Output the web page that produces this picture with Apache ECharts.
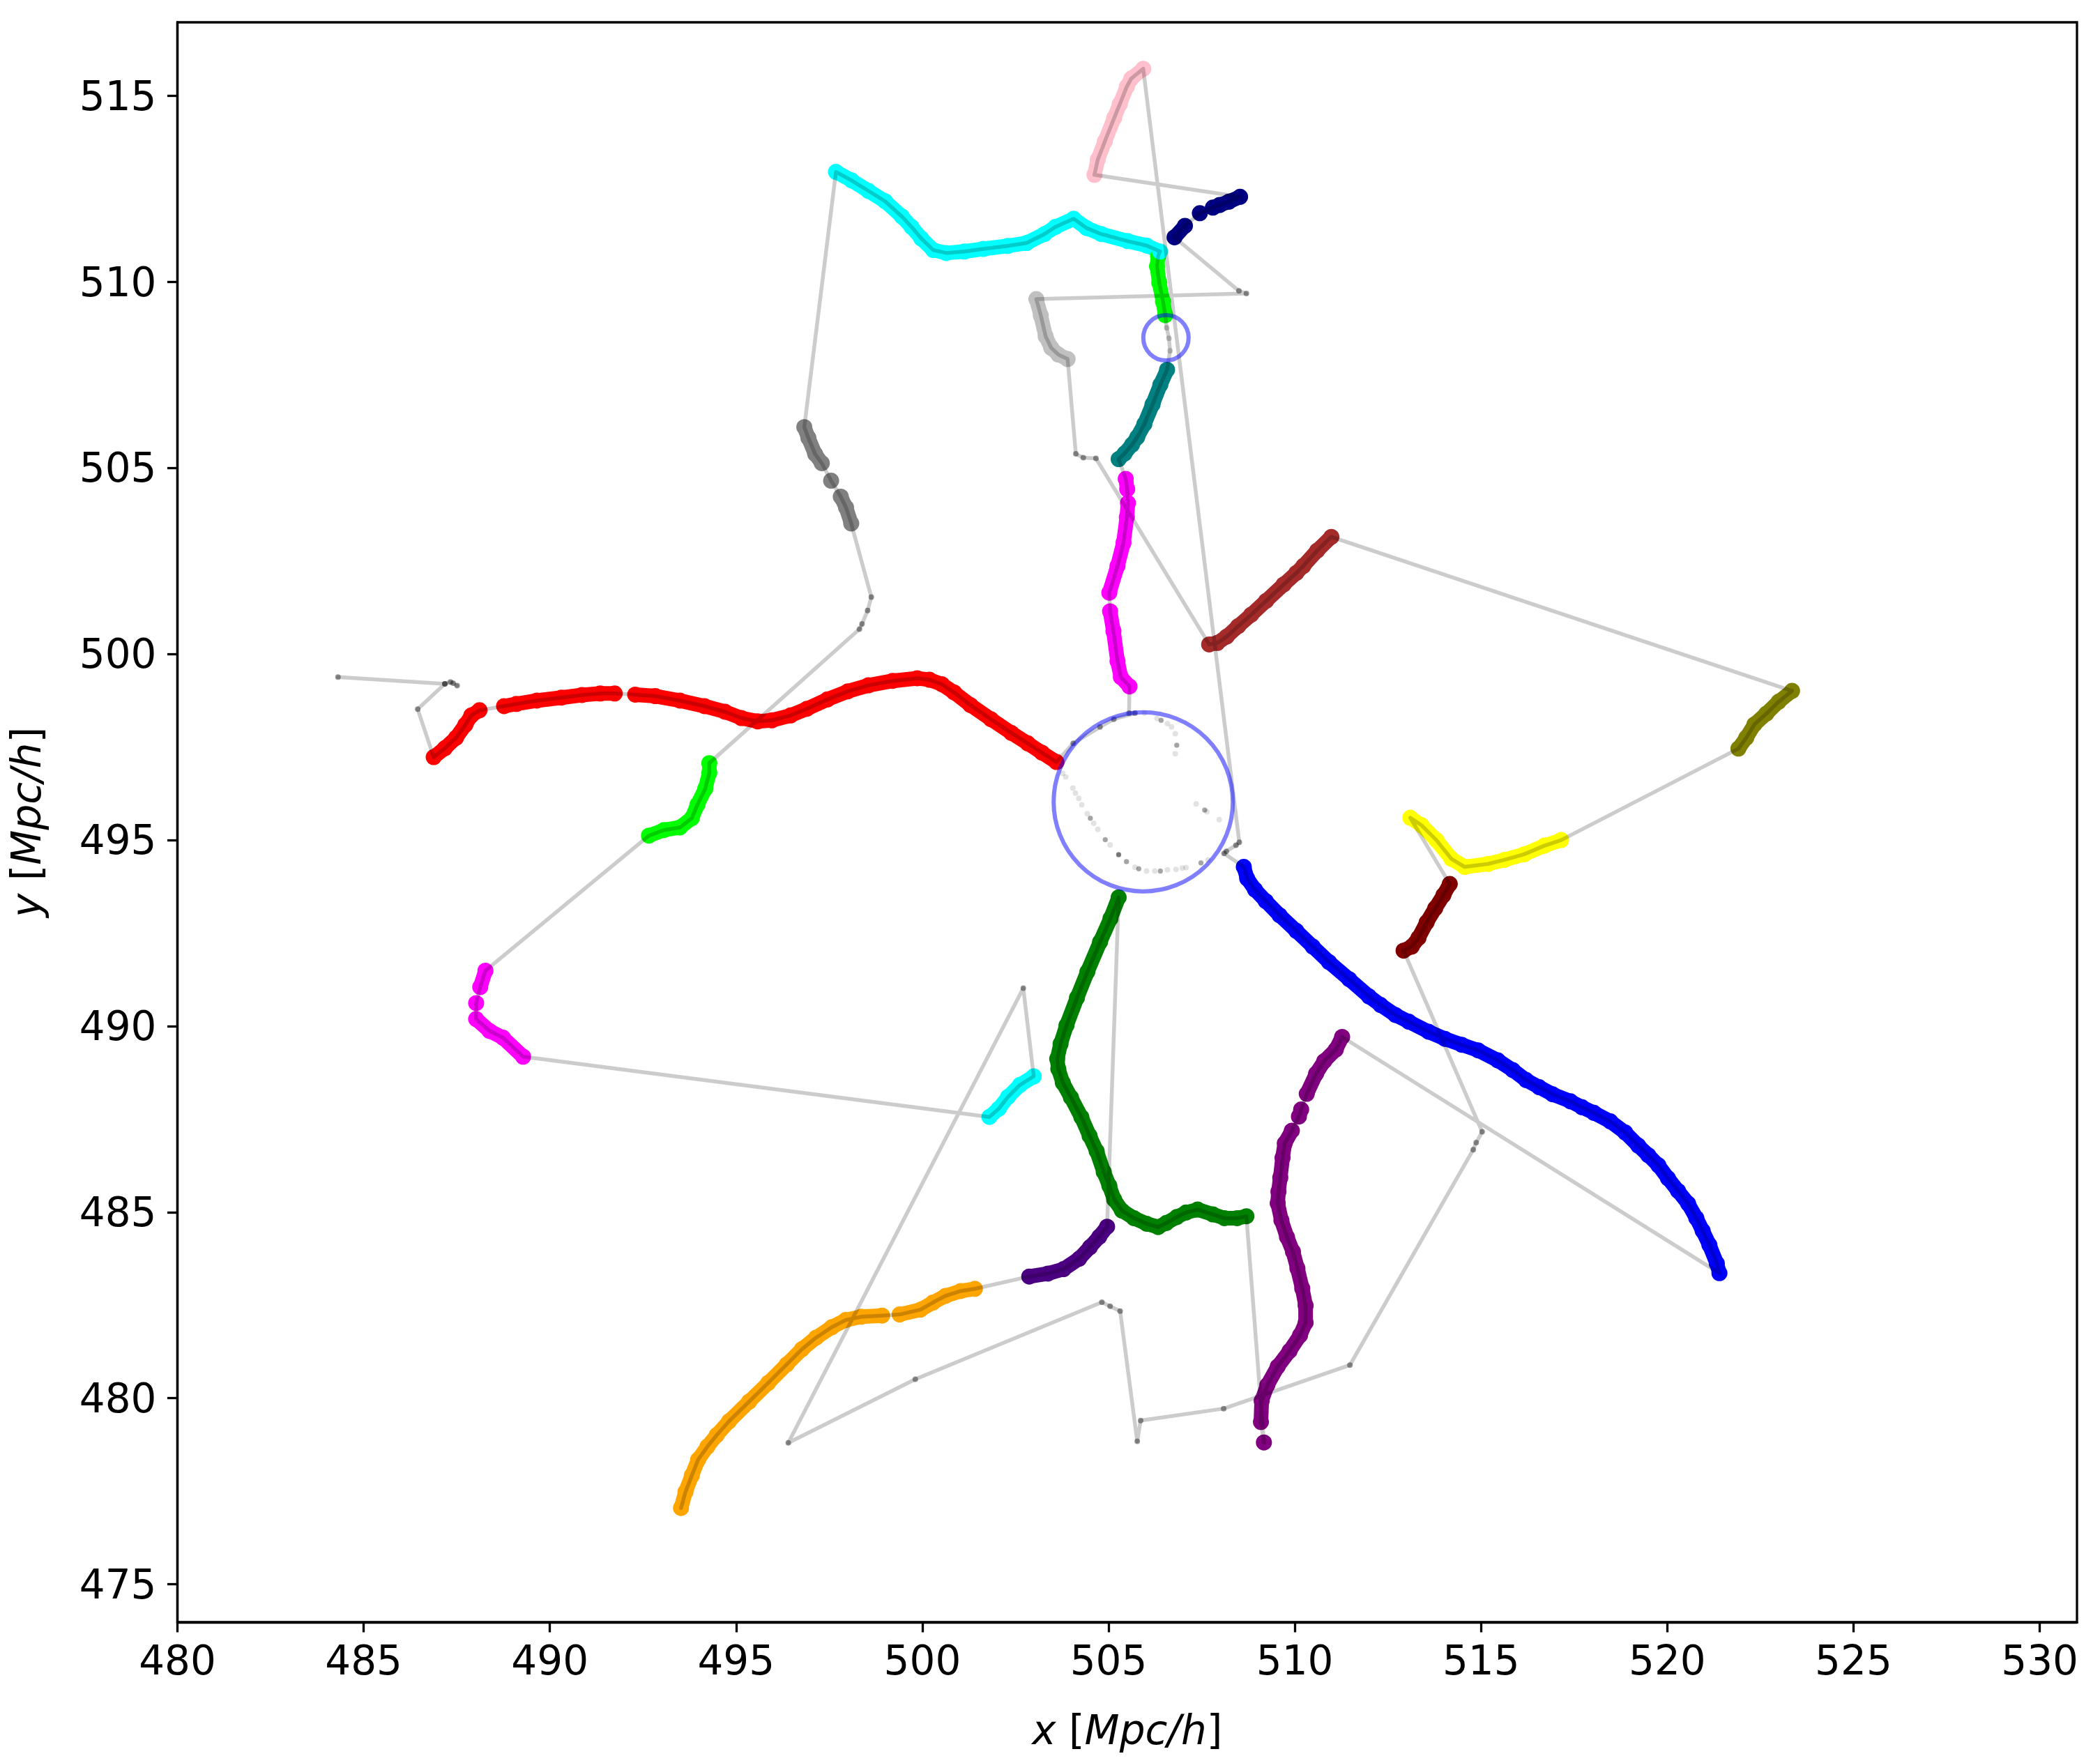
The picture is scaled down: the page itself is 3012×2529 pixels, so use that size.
<!DOCTYPE html>
<html>
<head>
<meta charset="utf-8">
<style>
  html, body { margin: 0; padding: 0; background: #fff; }
  #chart { width: 3012px; height: 2529px; }
</style>
<script src="https://cdn.jsdelivr.net/npm/echarts@6/dist/echarts.min.js"></script>
</head>
<body>
<div id="chart"></div>
<script>
// tick labels
const xTicks = [480, 485, 490, 495, 500, 505, 510, 515, 520, 525, 530];
const yTicks = [475, 480, 485, 490, 495, 500, 505, 510, 515];

// a [null, null] entry is a gap in the coloured band
const GAP = [null, null];

const redPts = [[486.88,497.23],[487.18,497.47],[487.48,497.75],[487.73,498.10],[487.89,498.35],[488.11,498.49],GAP,[488.77,498.60],[489.10,498.66],[489.65,498.75],[490.31,498.83],[490.86,498.90],[491.35,498.94],[491.74,498.94],GAP,[492.29,498.91],[492.83,498.87],[493.49,498.75],[494.15,498.60],[494.70,498.45],[495.14,498.28],[495.58,498.19],[495.96,498.22],[496.46,498.35],[496.90,498.53],[497.45,498.78],[498.00,499.00],[498.55,499.16],[499.20,499.28],[499.86,499.35],[500.19,499.31],[500.52,499.19],[500.85,498.97],[501.29,498.63],[501.84,498.25],[502.39,497.88],[502.83,497.60],[503.21,497.35],[503.60,497.10]];
const magentaPts = [[505.56,499.13],[505.33,499.38],[505.24,499.81],[505.13,500.62],[505.04,501.15],GAP,[505.02,501.65],[505.24,502.37],[505.40,502.99],[505.49,503.68],[505.52,504.06],GAP,[505.50,504.43],[505.46,504.71]];
const tealPts = [[505.27,505.24],[505.43,505.39],[505.63,505.63],[505.77,505.83],[505.96,506.18],[506.18,506.71],[506.39,507.24],[506.57,507.64]];
const limePts = [[506.52,509.11],[506.46,509.48],[506.36,509.98],[506.30,510.42],[506.33,510.70]];
const cyanPts = [[506.38,510.82],[506.02,510.98],[505.51,511.10],[504.80,511.29],[504.41,511.45],[504.06,511.70],[503.57,511.48],[503.28,511.29],[502.80,511.05],[502.29,510.97],[501.64,510.89],[501.13,510.82],[500.64,510.78],[500.29,510.86],[499.97,511.17],[499.71,511.48],[499.45,511.76],[499.00,512.17],[498.55,512.45],[498.10,512.73],[497.68,512.96]];
const grayPts = [[496.83,506.10],[496.94,505.81],[497.12,505.38],[497.30,505.13],GAP,[497.55,504.66],GAP,[497.81,504.23],[497.95,503.94],[498.09,503.51]];
const lime2Pts = [[494.28,497.07],[494.28,496.81],[494.17,496.38],[493.96,495.95],[493.81,495.59],[493.49,495.34],[493.06,495.27],[492.66,495.12]];
const magenta2Pts = [[488.27,491.49],[488.13,491.05],GAP,[488.02,490.62],GAP,[488.02,490.19],[488.38,489.87],[488.74,489.69],[489.28,489.18]];
const cyan2Pts = [[501.80,487.56],[502.05,487.78],[502.30,488.10],[502.62,488.42],[502.99,488.65]];
const maroonPts = [[512.92,492.03],[513.14,492.14],[513.32,492.37],[513.54,492.79],[513.77,493.17],[513.99,493.52],[514.16,493.82]];
const yellowPts = [[513.10,495.60],[513.40,495.40],[513.80,495.00],[514.20,494.50],[514.56,494.28],[515.19,494.36],[515.63,494.47],[516.16,494.62],[516.70,494.85],[517.15,495.00]];
const olivePts = [[521.91,497.46],[522.12,497.75],[522.34,498.11],[522.66,498.40],[522.99,498.72],[523.35,499.01]];
const brownPts = [[510.98,503.15],[510.60,502.78],[510.23,502.37],[510.04,502.18],[509.70,501.87],[509.23,501.43],[508.83,501.06],[508.48,500.75],[508.17,500.47],[507.92,500.30],[507.70,500.26]];
const silverPts = [[503.90,507.93],[503.65,508.05],[503.46,508.23],[503.31,508.54],[503.18,509.10],[503.06,509.54]];
const navyPts = [[506.77,511.20],[507.05,511.51],GAP,[507.45,511.85],GAP,[507.80,512.00],[507.98,512.07],[508.23,512.16],[508.53,512.29]];
const pinkPts = [[504.62,512.88],[504.71,513.29],[504.90,513.78],[505.15,514.41],[505.30,514.78],[505.49,515.25],[505.61,515.47],[505.93,515.73]];
const bluePts = [[508.63,494.28],[508.72,493.97],[508.93,493.67],[509.22,493.36],[509.59,492.98],[510.04,492.56],[510.48,492.14],[510.92,491.72],[511.46,491.26],[511.99,490.80],[512.30,490.57],[512.70,490.30],[513.06,490.12],[513.59,489.85],[514.03,489.66],[514.48,489.50],[514.92,489.35],[515.45,489.08],[515.85,488.82],[516.21,488.55],[516.56,488.36],[516.92,488.17],[517.40,487.98],[517.71,487.82],[518.03,487.67],[518.47,487.44],[518.87,487.14],[519.22,486.79],[519.49,486.53],[519.76,486.26],[520.02,485.91],[520.29,485.57],[520.56,485.23],[520.78,484.84],[520.95,484.50],[521.13,484.12],[521.33,483.62],[521.40,483.36]];
const purplePts = [[511.27,489.71],[511.10,489.37],[510.79,489.06],[510.57,488.72],[510.32,488.18],GAP,[510.17,487.76],[510.11,487.57],GAP,[509.92,487.19],[509.73,486.85],[509.67,486.46],[509.61,485.93],[509.56,485.55],[509.54,485.24],[509.64,484.78],[509.79,484.33],[509.95,483.94],[510.07,483.49],[510.20,482.95],[510.29,482.49],[510.29,482.03],[510.14,481.69],[509.86,481.27],[509.54,480.85],[509.26,480.35],[509.11,479.93],[509.09,479.36],GAP,[509.17,478.81]];
const greenPts = [[508.70,484.89],[508.45,484.84],[508.11,484.84],[507.80,484.94],[507.39,485.07],[507.08,484.99],[506.83,484.87],[506.55,484.71],[506.33,484.60],[506.02,484.69],[505.68,484.84],[505.36,485.04],[505.15,485.34],[505.02,485.71],[504.87,486.08],[504.68,486.64],[504.49,487.05],[504.27,487.55],[503.99,488.08],[503.77,488.48],[503.65,488.85],[503.62,489.12],[503.71,489.52],[503.87,490.02],[504.15,490.76],[504.43,491.46],[504.77,492.26],[505.05,492.89],[505.27,493.46]];
const indigoPts = [[504.96,484.61],[504.75,484.34],[504.50,484.06],[504.21,483.75],[503.79,483.47],[503.37,483.35],[502.87,483.27]];
const orangePts = [[501.41,482.94],[501.03,482.88],[500.62,482.75],[500.28,482.57],[499.95,482.38],[499.39,482.25],GAP,[498.92,482.22],[498.36,482.19],[497.94,482.10],[497.57,481.91],[497.15,481.63],[496.77,481.32],[496.36,480.91],[495.86,480.41],[495.35,479.91],[494.81,479.38],[494.48,479.01],[494.23,478.70],[493.98,478.35],[493.81,477.92],[493.64,477.48],[493.52,477.05]];

// small grey points between the coloured pieces, in path order
const startDark = [[487.51,499.15],[487.40,499.22],[487.33,499.25],[487.18,499.20],[484.31,499.38],[487.18,499.20],[486.45,498.52]];
const aboveCircle = [[504.05,497.60],[504.77,498.04],[505.14,498.25],[505.71,498.41],[505.55,498.41]];
const smallCircleDots = [[506.65,508.15],[506.62,508.49],[506.56,508.77]];
const besideGray = [[498.63,501.53],[498.53,501.17],[498.38,500.81],[498.31,500.67]];
const lowerDark = [[502.71,491.02],[496.40,478.80],[499.81,480.51],[504.82,482.58],[505.04,482.47],[505.31,482.34],[505.77,478.84],[505.86,479.40],[508.09,479.72],[511.48,480.89],[514.79,486.68],[514.87,486.87],[515.03,487.16]];
const behindBrown = [[504.66,505.26],[504.32,505.28],[504.12,505.38]];
const topRightDark = [[508.70,509.69],[508.50,509.76]];
const beforeBlue = [[508.51,494.94],[508.42,494.86],[508.16,494.70],[508.10,494.64]];

// faint points inside the big circle, not on the grey path
const circleFaint = [[503.77,496.79],[503.85,496.70],[504.04,496.40],[504.11,496.26],[504.20,496.12],[504.28,495.95],[504.43,495.71],[504.51,495.59],[504.60,495.45],[504.71,495.29],[504.91,495.01],[505.04,494.87],[505.27,494.61],[505.48,494.42],[505.71,494.27],[505.81,494.23],[506.02,494.17],[506.24,494.17],[506.39,494.17],[506.58,494.20],[506.81,494.21],[506.98,494.25],[507.08,494.26],[507.48,494.39],[507.67,494.47],[505.96,498.41],[506.30,498.27],[506.41,498.22],[506.58,498.13],[506.69,498.04],[506.79,497.86],[506.83,497.55],[506.79,497.32],[507.35,495.97],[507.58,495.81],[507.64,495.76],[507.97,495.55]];
const circleDarker = [[504.51,495.59],[504.91,495.01],[505.27,494.61],[505.27,494.61],[505.48,494.42],[505.81,494.23],[506.39,494.17],[507.48,494.39],[506.41,498.22],[506.83,497.55],[507.58,495.81]];

// marker circles: centre only, the size is set below
const bigCircleCentre = [[505.93,496.03]];
const smallCircleCentre = [[506.54,508.50]];

// coloured pieces
const branches = [
  { name: 'red', color: '#ff0000', pts: redPts },
  { name: 'magenta', color: '#ff00ff', pts: magentaPts },
  { name: 'teal', color: '#008080', pts: tealPts },
  { name: 'lime', color: '#00ff00', pts: limePts },
  { name: 'cyan', color: '#00ffff', pts: cyanPts },
  { name: 'gray', color: '#808080', pts: grayPts },
  { name: 'lime2', color: '#00ff00', pts: lime2Pts },
  { name: 'magenta2', color: '#ff00ff', pts: magenta2Pts },
  { name: 'cyan2', color: '#00ffff', pts: cyan2Pts },
  { name: 'maroon', color: '#800000', pts: maroonPts },
  { name: 'yellow', color: '#ffff00', pts: yellowPts },
  { name: 'olive', color: '#808000', pts: olivePts },
  { name: 'brown', color: '#a52a2a', pts: brownPts },
  { name: 'silver', color: '#c0c0c0', pts: silverPts },
  { name: 'navy', color: '#000080', pts: navyPts },
  { name: 'pink', color: '#ffc0cb', pts: pinkPts },
  { name: 'blue', color: '#0000ff', pts: bluePts },
  { name: 'purple', color: '#800080', pts: purplePts },
  { name: 'green', color: '#008000', pts: greenPts },
  { name: 'indigo', color: '#4b0082', pts: indigoPts },
  { name: 'orange', color: '#ffa500', pts: orangePts }
];

const solid = pts => pts.filter(p => p[0] !== null);

// the whole grey path, in the order it runs through the picture
const greyPath = [].concat(
  startDark, solid(redPts), aboveCircle, solid(magentaPts), solid(tealPts),
  smallCircleDots, solid(limePts), solid(cyanPts), solid(grayPts),
  besideGray, solid(lime2Pts), solid(magenta2Pts), solid(cyan2Pts), lowerDark,
  solid(maroonPts), solid(yellowPts), solid(olivePts),
  solid(brownPts), behindBrown, solid(silverPts), topRightDark, solid(navyPts),
  solid(pinkPts), beforeBlue, solid(bluePts), solid(purplePts), solid(greenPts),
  solid(indigoPts), solid(orangePts)
);

const darkDots = [].concat(startDark, aboveCircle, besideGray, lowerDark, behindBrown, topRightDark, beforeBlue);

const series = [];
branches.forEach(b => {
  series.push({
    name: b.name + ' band', type: 'line', data: b.pts, z: 2, showSymbol: false, silent: true,
    connectNulls: false, lineStyle: { color: b.color, width: 21, cap: 'round', join: 'round' }
  });
  series.push({
    name: b.name, type: 'scatter', data: solid(b.pts), z: 2, symbolSize: 23, silent: true,
    itemStyle: { color: b.color, opacity: 1 }
  });
});
series.push({
  name: 'path', type: 'line', data: greyPath, z: 3, showSymbol: false, silent: true,
  lineStyle: { color: 'rgba(0,0,0,0.2)', width: 5.5, join: 'round', cap: 'round' }
});
series.push({ name: 'faint', type: 'scatter', data: circleFaint, z: 3, symbolSize: 8, silent: true, itemStyle: { color: 'rgba(0,0,0,0.14)' } });
series.push({ name: 'darker', type: 'scatter', data: circleDarker, z: 3, symbolSize: 7, silent: true, itemStyle: { color: 'rgba(0,0,0,0.35)' } });
series.push({ name: 'dark', type: 'scatter', data: darkDots, z: 3, symbolSize: 8, silent: true, itemStyle: { color: 'rgba(0,0,0,0.5)' } });
series.push({ name: 'small circle dots', type: 'scatter', data: smallCircleDots, z: 3, symbolSize: 8, silent: true, itemStyle: { color: 'rgba(0,0,0,0.25)' } });

// open marker circles on top of everything
[[bigCircleCentre, 257], [smallCircleCentre, 65]].forEach(c => {
  series.push({
    type: 'scatter', data: c[0], z: 5, symbolSize: c[1], silent: true,
    itemStyle: { color: 'rgba(0,0,0,0)', borderColor: 'rgba(0,0,255,0.5)', borderWidth: 6, opacity: 1 }
  });
});

const axisFont = { fontFamily: 'DejaVu Sans', fontSize: 58, color: '#000' };
const nameRich = {
  i: { fontFamily: 'DejaVu Sans', fontStyle: 'italic', fontSize: 58, color: '#000' },
  n: { fontFamily: 'DejaVu Sans', fontSize: 58, color: '#000' }
};
const axisBase = {
  type: 'value', nameLocation: 'middle', splitLine: { show: false },
  axisLine: { show: true, onZero: false, lineStyle: { color: '#000', width: 3.3 } },
  nameTextStyle: { rich: nameRich }
};

const chart = echarts.init(document.getElementById('chart'), null, { renderer: 'canvas' });
chart.setOption({
  animation: false,
  backgroundColor: '#fff',
  grid: {
    left: 254.5, top: 32, width: 2724.5, height: 2295, outerBoundsMode: 'none',
    show: true, borderColor: '#000', borderWidth: 3.3, backgroundColor: 'transparent'
  },
  xAxis: Object.assign({}, axisBase, {
    min: 480, max: 531,
    name: '{i|x}{n|\u00a0[}{i|Mpc/h}{n|]}', nameGap: 131,
    axisTick: { length: 14.5, lineStyle: { color: '#000', width: 3.3 }, customValues: xTicks },
    axisLabel: Object.assign({ margin: 31, customValues: xTicks }, axisFont)
  }),
  yAxis: Object.assign({}, axisBase, {
    min: 473.98, max: 516.98,
    name: '{i|y}{n|\u00a0[}{i|Mpc/h}{n|]}', nameGap: 183, nameRotate: 90,
    axisTick: { length: 14.5, lineStyle: { color: '#000', width: 3.3 }, customValues: yTicks },
    axisLabel: {
      margin: 30, customValues: yTicks, formatter: '{t|{value}}',
      rich: { t: Object.assign({ padding: [10, 0, 0, 0] }, axisFont) }
    }
  }),
  series: series
});
</script>
</body>
</html>
